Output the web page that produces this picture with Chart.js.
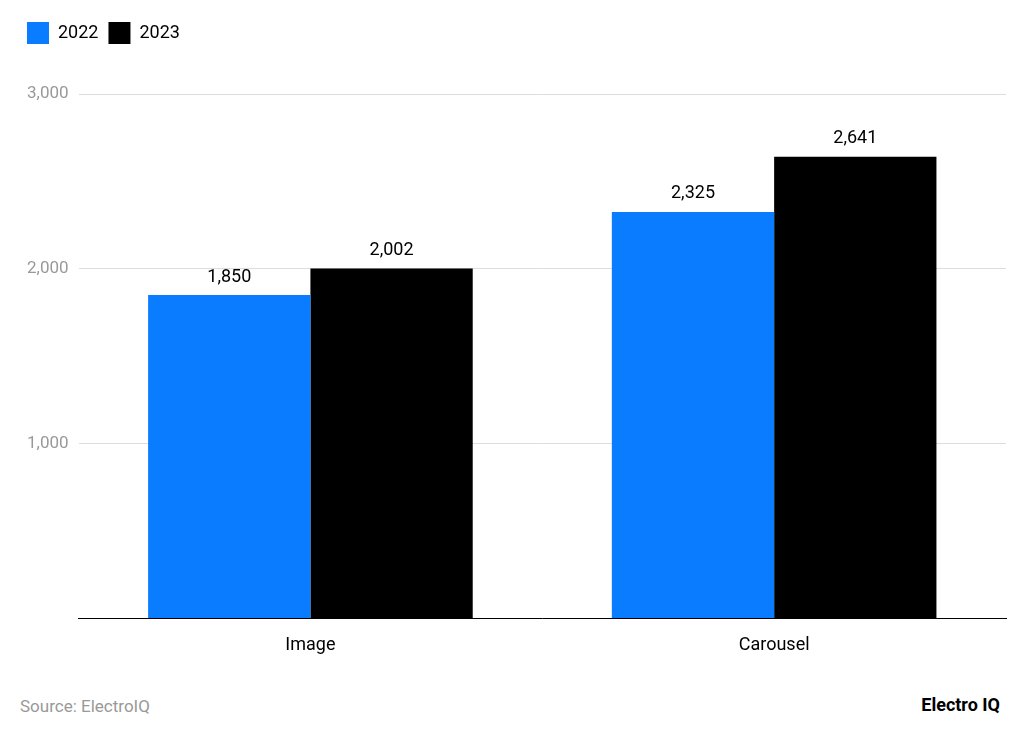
<!DOCTYPE html>
<html>
<head>
<meta charset="utf-8">
<script src="https://cdn.jsdelivr.net/npm/chart.js@4"></script>
<style>
  body { margin: 0; background: #fff; font-family: Roboto, sans-serif; }
  #wrap { position: relative; width: 1022px; height: 734px; }
  #box { position: absolute; left: 0; top: 0; width: 1022px; height: 664px; }
  #source { position: absolute; left: 20px; top: 696px; font-size: 17px; color: #999; }
  #brand { position: absolute; right: 22px; top: 694px; font-size: 18px; font-weight: bold; color: #000; }
</style>
</head>
<body>
<div id="wrap">
  <div id="box"><canvas id="chart"></canvas></div>
  <div id="source">Source: ElectroIQ</div>
  <div id="brand">Electro IQ</div>
</div>
<script>
const categories = ['Image', 'Carousel'];
const values2022 = [1850, 2325];
const values2023 = [2002, 2641];
const yTicks = [0, 1000, 2000, 3000];

// draw the value above each bar
const valueLabels = {
    id: 'valueLabels',
    afterDatasetsDraw(chart) {
        const ctx = chart.ctx;
        ctx.save();
        ctx.font = '18px Roboto';
        ctx.fillStyle = '#000';
        ctx.textAlign = 'center';
        ctx.textBaseline = 'bottom';
        chart.data.datasets.forEach((ds, i) => {
            chart.getDatasetMeta(i).data.forEach((bar, j) => {
                ctx.fillText(ds.data[j].toLocaleString('en-US'), bar.x, bar.y - 9);
            });
        });
        ctx.restore();
    }
};

// extra space under the legend
const legendGap = {
    id: 'legendGap',
    beforeInit(chart) {
        const fit = chart.legend.fit;
        chart.legend.fit = function () {
            fit.bind(chart.legend)();
            this.height += 40;
        };
    }
};

new Chart(document.getElementById('chart'), {
    type: 'bar',
    data: {
        labels: categories,
        datasets: [
            { label: '2022', data: values2022, backgroundColor: '#0a7cff' },
            { label: '2023', data: values2023, backgroundColor: '#000000' }
        ]
    },
    options: {
        responsive: true,
        maintainAspectRatio: false,
        animation: false,
        layout: { padding: { left: 17, right: 16, top: 12 } },
        categoryPercentage: 0.7,
        barPercentage: 1.0,
        plugins: {
            tooltip: { enabled: false },
            legend: {
                position: 'top',
                align: 'start',
                labels: {
                    boxWidth: 22, boxHeight: 22, padding: 10,
                    color: '#000', font: { family: 'Roboto', size: 18 }
                }
            }
        },
        scales: {
            x: {
                grid: { display: false },
                border: { color: '#000', width: 1 },
                ticks: { color: '#000', font: { family: 'Roboto', size: 18 }, padding: 8 }
            },
            y: {
                min: 0, max: 3000,
                afterBuildTicks: axis => { axis.ticks = yTicks.map(v => ({ value: v })); },
                grid: { color: '#dddddd', drawTicks: false },
                border: { display: false },
                ticks: {
                    color: '#999', padding: 10,
                    font: { family: 'Roboto', size: 17 },
                    callback: v => v === 0 ? '' : v.toLocaleString('en-US')
                }
            }
        }
    },
    plugins: [valueLabels, legendGap]
});
</script>
</body>
</html>
